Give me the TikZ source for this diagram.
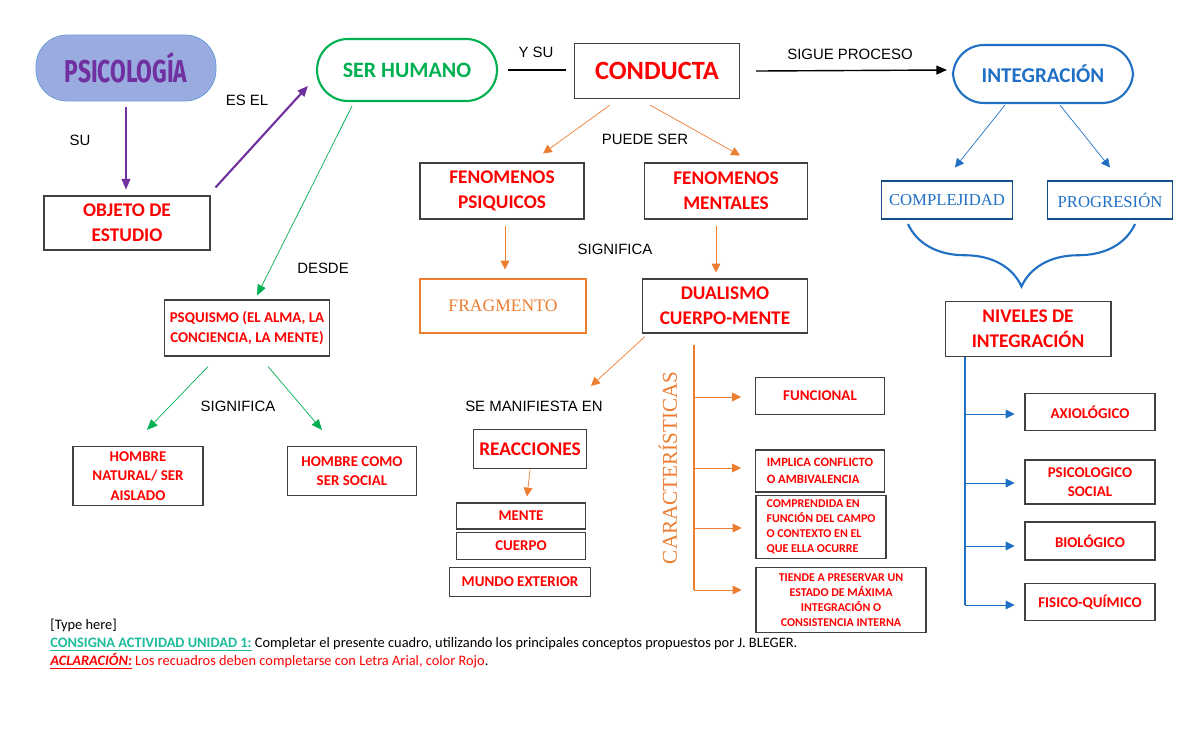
\documentclass[tikz,border=0pt]{standalone}
\usepackage{fontspec}
\setmainfont{Carlito}
\newfontfamily\arialf{Liberation Sans}
\newfontfamily\timesf{Liberation Serif}
\newfontfamily\heavyf{Fira Sans}
\usepackage{xcolor}
\usetikzlibrary{arrows.meta,decorations.pathreplacing,calc}
\definecolor{psipurple}{HTML}{7030A0}
\definecolor{psifill}{HTML}{9AABE0}
\definecolor{hgreen}{HTML}{00B050}
\definecolor{iblue}{HTML}{1F6FC5}
\definecolor{orng}{HTML}{ED7D31}
\definecolor{teal}{HTML}{1ABC9C}

\begin{document}
\begin{tikzpicture}[x=0.02cm, y=-0.02cm,
                box/.style={draw=black!75, semithick, align=center, text=red, font=\bfseries\fontsize{11}{14}\selectfont, inner sep=2pt},
                sbox/.style={box, font=\bfseries\fontsize{8.5}{11}\selectfont},
                tbox/.style={box, font=\bfseries\fontsize{7.2}{10}\selectfont},
                pill/.style={rounded corners=0.62cm, very thick, align=center},
                lab/.style={font=\arialf\fontsize{8.5}{10}\selectfont},
                oarr/.style={color=orng, -{Triangle[width=5pt,length=5pt]}},
                barr/.style={color=iblue, -{Triangle[width=5pt,length=5pt]}}]

            %% Frame
            \useasboundingbox (0,0) rectangle (1200,729);

            %% Top row
            \node[pill, draw=iblue!70, thin, fill=psifill, minimum width=3.6cm, minimum height=1.32cm] (psi) at (126,68)
                {\heavyf\bfseries\fontsize{18}{20}\selectfont\color{psipurple}\scalebox{0.72}[1]{PSICOLOGÍA}};
            \node[pill, draw=hgreen, minimum width=3.6cm, minimum height=1.24cm, text=hgreen, font=\bfseries\fontsize{12.5}{15}\selectfont] (ser) at (407,70) {SER HUMANO};
            \node[box, minimum width=3.3cm, minimum height=1.1cm, font=\bfseries\fontsize{15}{17}\selectfont, anchor=north] (cond) at (657,43) {CONDUCTA};
            \node[pill, draw=iblue, minimum width=3.6cm, minimum height=1.16cm, text=iblue, font=\bfseries\fontsize{12}{14}\selectfont] (integ) at (1043,74) {INTEGRACIÓN};

            %% Left branch
            \node[box, minimum width=3.32cm, minimum height=1.08cm] (obj) at (127,223) {OBJETO DE\\ESTUDIO};
            \node[sbox, minimum width=3.3cm, minimum height=1.12cm] (psiq) at (247,328) {PSQUISMO (EL ALMA, LA\\CONCIENCIA, LA MENTE)};
            \node[sbox, minimum width=2.6cm, minimum height=1.18cm] (hnat) at (138,476) {HOMBRE\\NATURAL/ SER\\AISLADO};
            \node[sbox, minimum width=2.58cm, minimum height=0.98cm] (hsoc) at (352,471) {HOMBRE COMO\\SER SOCIAL};

            %% Conducta branch
            \node[box, minimum width=3.28cm, minimum height=1.12cm] (fpsi) at (502,191) {FENOMENOS\\PSIQUICOS};
            \node[box, minimum width=3.26cm, minimum height=1.12cm] (fment) at (726,191) {FENOMENOS\\MENTALES};
            \node[box, draw=orng, text=orng, minimum width=3.32cm, minimum height=1.08cm, font=\timesf\fontsize{10}{12}\selectfont] (frag) at (503,306) {FRAGMENTO};
            \node[box, minimum width=3.3cm, minimum height=1.08cm] (dual) at (725,306) {DUALISMO\\CUERPO-MENTE};
            \node[box, minimum width=2.26cm, minimum height=0.78cm] (reac) at (530,449) {REACCIONES};
            \node[tbox, font=\bfseries\fontsize{8.5}{11}\selectfont, minimum width=2.58cm, minimum height=0.52cm] (mente) at (521,516) {MENTE};
            \node[tbox, font=\bfseries\fontsize{8.5}{11}\selectfont, minimum width=2.58cm, minimum height=0.54cm] (cuerpo) at (521,546) {CUERPO};
            \node[tbox, font=\bfseries\fontsize{8.5}{11}\selectfont, minimum width=2.82cm, minimum height=0.58cm] (mundo) at (520,582) {MUNDO EXTERIOR};

            %% Caracteristicas
            \node[tbox, font=\bfseries\fontsize{8.5}{11}\selectfont, minimum width=2.58cm, minimum height=0.74cm] (func) at (820,396) {FUNCIONAL};
            \node[tbox, align=left, minimum width=2.58cm, minimum height=0.84cm] (impl) at (820,471) {IMPLICA CONFLICTO\\O AMBIVALENCIA};
            \node[tbox, align=left, minimum width=2.6cm, minimum height=1.26cm, font=\bfseries\fontsize{6.8}{8.6}\selectfont] (comp) at (821,527) {COMPRENDIDA EN\\FUNCIÓN DEL CAMPO\\O CONTEXTO EN EL\\QUE ELLA OCURRE};
            \node[tbox, minimum width=3.4cm, minimum height=1.3cm, font=\bfseries\fontsize{6.8}{8.6}\selectfont] (tiende) at (841,600) {TIENDE A PRESERVAR UN\\ESTADO DE MÁXIMA\\INTEGRACIÓN O\\CONSISTENCIA INTERNA};
            \node[rotate=90, text=orng, font=\timesf\fontsize{12}{14}\selectfont] (carac) at (668,468) {CARACTERÍSTICAS};

            %% Integracion branch
            \node[box, text=iblue, draw=iblue!70!black, minimum width=2.62cm, minimum height=0.76cm, font=\timesf\fontsize{9.5}{11}\selectfont] (compl) at (947,200) {COMPLEJIDAD};
            \node[box, text=iblue, draw=iblue!70!black, minimum width=2.5cm, minimum height=0.76cm, font=\timesf\fontsize{9.5}{11}\selectfont] (progr) at (1110,200) {PROGRESIÓN};
            \node[box, minimum width=3.32cm, minimum height=1.1cm] (niv) at (1028,329) {NIVELES DE\\INTEGRACIÓN};
            \node[sbox, minimum width=2.6cm, minimum height=0.74cm] (axio) at (1090,412) {AXIOLÓGICO};
            \node[sbox, minimum width=2.6cm, minimum height=0.88cm] (psoc) at (1090,482) {PSICOLOGICO\\SOCIAL};
            \node[sbox, minimum width=2.6cm, minimum height=0.76cm] (bio) at (1090,541) {BIOLÓGICO};
            \node[sbox, minimum width=2.6cm, minimum height=0.74cm] (fisq) at (1090,602) {FISICO-QUÍMICO};

            %% Connectors
            \draw[psipurple, thick, -{Triangle[width=5pt,length=6pt]}] ($(psi.south)+(0,6)$) -- ($(obj.north -| psi.south)+(0,-6)$);
            \draw[psipurple, very thick, -{Triangle[width=5pt,length=6pt]}] ($(obj.north east)+(5,-8)$) -- ($(ser.west)+(-8,16)$);
            \draw[very thick] ($(ser.east)+(10,0)$) -- ($(cond.west |- ser.east)+(-8,0)$);
            \draw[thick, -{Triangle[width=5pt,length=6pt]}] ($(cond.east)+(16,0)$) -- ($(integ.west)+(-5,-4)$);
            \draw[hgreen, -{Triangle[width=5pt,length=6pt]}] ($(ser.south)+(-55,4)$) -- ($(psiq.north)+(10,-4)$);
            \draw[oarr] ($(cond.south)+(-47,6)$) -- ($(fpsi.north)+(41,-9)$);
            \draw[oarr] ($(cond.south)+(-7,6)$) -- ($(fment.north)+(14,-7)$);
            \draw[oarr] ($(fpsi.south)+(3,6)$) -- ($(frag.north)+(2,-9)$);
            \draw[oarr] ($(fment.south)+(-10,6)$) -- ($(dual.north)+(-9,-6)$);
            \draw[oarr] ($(dual.south)+(-80,3)$) -- ($(reac.north)+(61,-43)$);
            \draw[oarr] ($(reac.south)+(0,1)$) -- ($(mente.north)+(6,-6)$);
            \draw[hgreen, -{Triangle[width=5pt,length=6pt]}] ($(psiq.south)+(-39,10)$) -- ($(hnat.north)+(9,-16)$);
            \draw[hgreen, -{Triangle[width=5pt,length=6pt]}] ($(psiq.south)+(21,10)$) -- ($(hsoc.north)+(-30,-16)$);
            \draw[barr] ($(integ.south)+(-38,1)$) -- ($(compl.north)+(8,-13)$);
            \draw[barr] ($(integ.south)+(17,1)$) -- ($(progr.north)+(0,-13)$);

            %% Orange spine
            \coordinate (otop) at (694,345);
            \coordinate (obot) at (694,590);
            \draw[orng, thick] (otop) -- (obot);
            \foreach \tgt/\yy in {func/397, impl/468, comp/528, tiende/590}
                \draw[oarr] (694,\yy) -- ($(\tgt.west |- 0,\yy)+(-14,0)$);

            %% Blue brace and spine
            \draw[iblue, very thick, decorate, decoration={brace, mirror, amplitude=1.25cm, aspect=0.5}] (908,224) -- (1135,224);
            \coordinate (btop) at (965,357);
            \coordinate (bbot) at (965,605);
            \draw[iblue, thick] (btop) -- (bbot);
            \foreach \tgt/\yy in {axio/414, psoc/483, bio/546, fisq/605}
                \draw[barr] (965,\yy) -- ($(\tgt.west |- 0,\yy)+(-10,0)$);

            %% Labels
            \node[lab] (lsu) at (80,140) {SU};
            \node[lab] (les) at (247,100) {ES EL};
            \node[lab] (lys) at (536,52) {Y SU};
            \node[lab] (lsp) at (850,54) {SIGUE PROCESO};
            \node[lab] (lde) at (323,268) {DESDE};
            \node[lab] (lps) at (645,139) {PUEDE SER};
            \node[lab] (lsg) at (615,249) {SIGNIFICA};
            \node[lab] (lsg2) at (238,406) {SIGNIFICA};
            \node[lab] (lsm) at (534,406) {SE MANIFIESTA EN};

            %% Footer
            \node[anchor=north west, align=left, font=\fontsize{8.2}{10.3}\selectfont, inner sep=0pt] (foot) at (50,619)
                {[Type here]\\
                 {\color{teal}\bfseries\underline{CONSIGNA ACTIVIDAD UNIDAD 1:}} Completar el presente cuadro, utilizando los principales conceptos propuestos por J. BLEGER.\\
                 {\color{red}{\bfseries\itshape\underline{ACLARACIÓN:}} Los recuadros deben completarse con Letra Arial, color Rojo}.};
\end{tikzpicture}
\end{document}
